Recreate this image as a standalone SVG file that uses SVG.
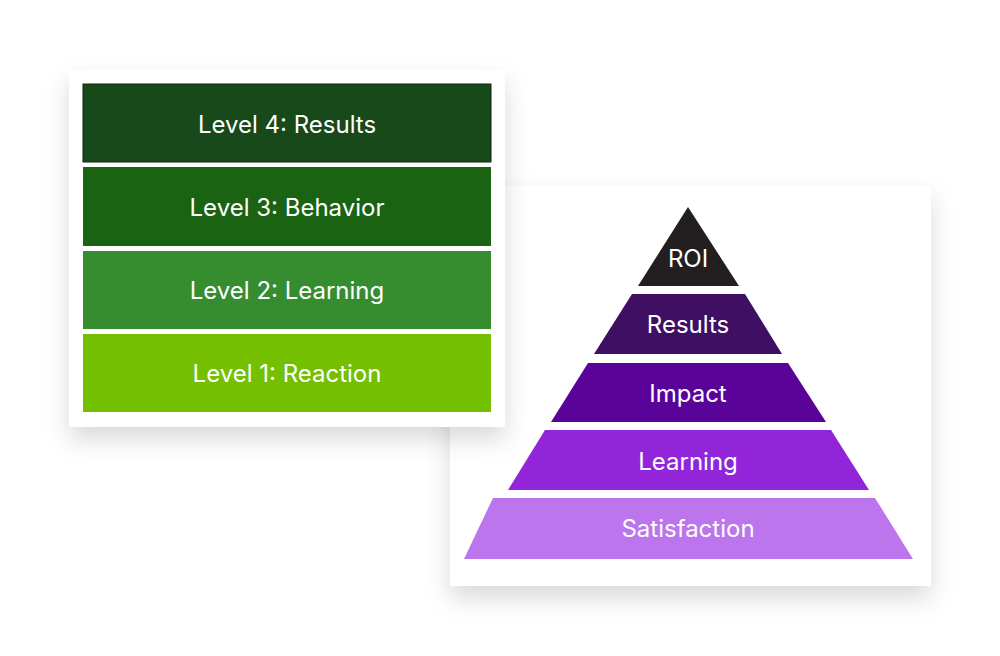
<svg xmlns="http://www.w3.org/2000/svg" width="1000" height="656" viewBox="0 0 1000 656">
<defs>
<filter id="sh" x="-20%" y="-20%" width="140%" height="150%"><feDropShadow dx="0" dy="12" stdDeviation="12" flood-color="#000" flood-opacity="0.15"/></filter>
<style>
.card{fill:#fff;filter:url(#sh)}
.t{font-family:Inter,"Open Sans",sans-serif;font-size:24px;fill:#fff;text-anchor:middle;dominant-baseline:central}
</style>
</defs>
<rect width="1000" height="656" fill="#fff"/>
<g id="pyramid-card">
<rect class="card" x="450" y="186" width="481" height="400"/>
<g id="roi"><polygon points="688,207 739,286 638,286" fill="#231f20"/><text class="t" x="688" y="258">ROI</text></g>
<g id="results"><polygon points="632,294 745,294 782,354 594,354" fill="#3f0f64"/><text class="t" x="688" y="324">Results</text></g>
<g id="impact"><polygon points="588,363 788,363 826,422 551,422" fill="#5a0399"/><text class="t" x="688" y="393">Impact</text></g>
<g id="learning"><polygon points="545,430 831,430 869,490 508,490" fill="#9225d9"/><text class="t" x="688" y="461">Learning</text></g>
<g id="satisfaction"><polygon points="493,498 875,498 913,559 464,559" fill="#bc75ec"/><text class="t" x="688" y="528">Satisfaction</text></g>
</g>
<g id="levels-card">
<rect class="card" x="69" y="70" width="436" height="357"/>
<g id="level4"><rect x="83" y="84" width="408" height="78" fill="#17491a" stroke="#0c2a0e"/><text class="t" x="287" y="124">Level 4: Results</text></g>
<g id="level3"><rect x="83" y="167" width="408" height="79" fill="#1a6312"/><text class="t" x="287" y="207">Level 3: Behavior</text></g>
<g id="level2"><rect x="83" y="251" width="408" height="78" fill="#368d2f"/><text class="t" x="287" y="290">Level 2: Learning</text></g>
<g id="level1"><rect x="83" y="334" width="408" height="78" fill="#73bf00"/><text class="t" x="287" y="373">Level 1: Reaction</text></g>
</g>
<g id="connectors"/>
</svg>
